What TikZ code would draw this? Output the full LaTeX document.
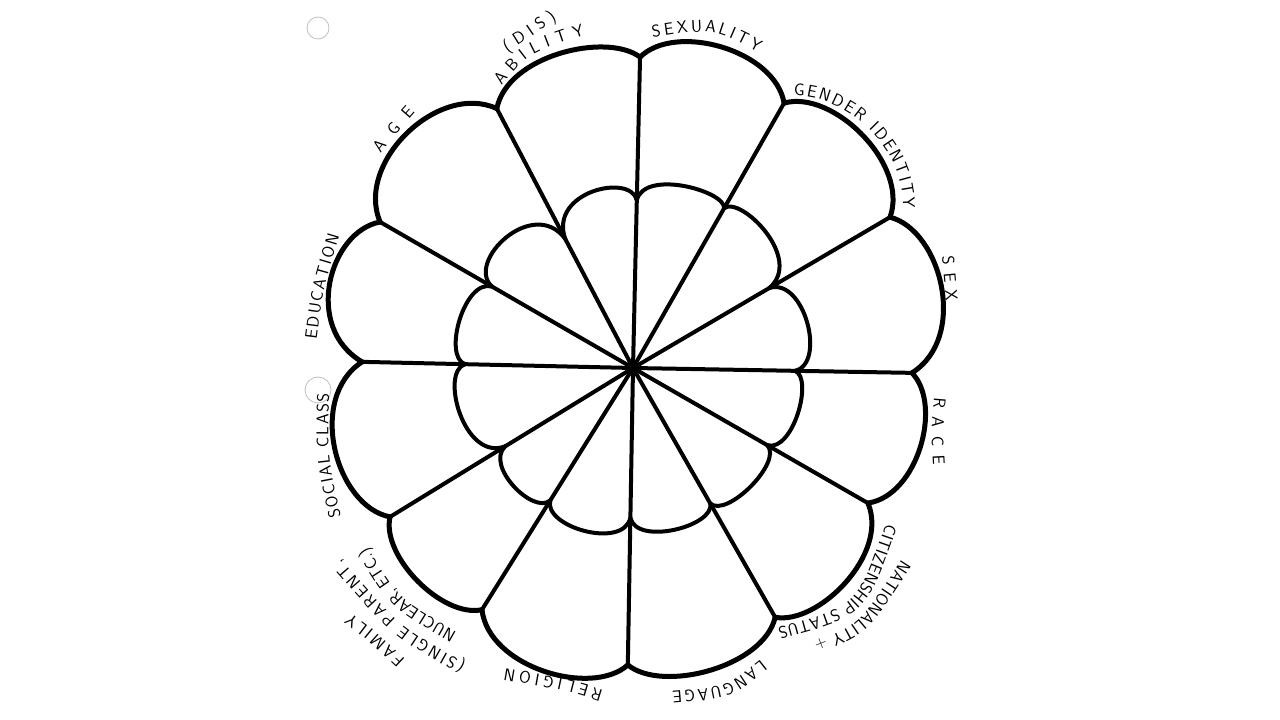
\documentclass[tikz,border=0pt]{standalone}
\usetikzlibrary{calc,decorations.text}
\newcommand\lblfont{\sffamily\fontsize{17}{17}\selectfont}
\begin{document}
\begin{tikzpicture}[x=1pt,y=1pt,line cap=round,line join=round,
  petal/.style={line width=5pt},
  spoke/.style={line width=4pt},
  innerpetal/.style={line width=4pt},
  punch/.style={draw=black!25,line width=0.8pt},
  lbl/.style={decorate,decoration={text along path,text align={fit to path},raise=-6pt}}]
\useasboundingbox (0,0) rectangle (1280,720);
\coordinate (C) at (633,352);
% outer junctions
\foreach \n/\a/\r in {0/88.7/311,1/60.3/305,2/30.4/298,3/-1/279,4/-29.9/271,5/-60.3/287,6/-91/297,7/-122/285,8/-148.5/285,9/-181.3/271,10/-210/292,11/-242.3/293}
  \coordinate (J\n) at ($(C)+(\a:\r)$);
% spokes
\foreach \n in {0,...,11} \draw[spoke] (C) -- (J\n);
% outer petals
\foreach \a/\ra/\b/\rb/\pk in {88.7/311/60.3/305/333, 60.3/305/30.4/298/327, 30.4/298/-1/279/319, -1/279/-29.9/271/298, -29.9/271/-60.3/287/302, -60.3/287/-91/297/312, -91/297/-122/285/316, -122/285/-148.5/285/303, -148.5/285/-181.3/271/309, -181.3/271/-210/292/315, -210/292/-242.3/293/326, -242.3/293/-271.3/311/323}
{
  \pgfmathsetmacro\h{(\a-\b)/2}
  \pgfmathsetmacro\dd{0.4*\h}
  \pgfmathsetmacro\rc{(8*\pk-(\ra+\rb)*cos(\h))/(6*cos(\h-\dd))}
  \draw[petal] ($(C)+(\a:\ra)$) .. controls ($(C)+({\a-\dd}:\rc)$) and ($(C)+({\b+\dd}:\rc)$) .. ($(C)+(\b:\rb)$);
}
% inner scalloped ring
\foreach \a/\ra/\b/\rb/\pk in {88.7/168/60.3/184/189, 60.3/184/30.4/158/190, 30.4/158/-1/162/180, -1/162/-29.9/155/171, -29.9/155/-60.3/156/167, -60.3/156/-91/150/167, -91/150/-122/156/170, -122/156/-148.5/150/168, -148.5/150/-181.3/168/179, -181.3/168/-210/163/180, -210/163/-242.3/146/182, -242.3/146/-271.3/168/181}
{
  \pgfmathsetmacro\h{(\a-\b)/2}
  \pgfmathsetmacro\dd{0.15*\h}
  \pgfmathsetmacro\rc{(8*\pk-(\ra+\rb)*cos(\h))/(6*cos(\h-\dd))}
  \draw[innerpetal] ($(C)+(\a:\ra)$) .. controls ($(C)+({\a-\dd}:\rc)$) and ($(C)+({\b+\dd}:\rc)$) .. ($(C)+(\b:\rb)$);
}
% faint punch holes
\draw[punch] (318,692) circle (11);
\draw[punch] (318,330) circle (13);
% labels
\path[lbl,decoration={text={|\lblfont|SEXUALITY}}] (651.7,688.3) .. controls (713.5,697.5) .. (760.8,673.3);
\path[lbl,decoration={text={|\lblfont|GENDER IDENTITY}}] (794,630) .. controls (845,632) and (910,580) .. (909,512);
\path[lbl,decoration={text={|\lblfont|SEX}}] (948,464) .. controls (950,441.8) .. (952,419);
\path[lbl,decoration={text={|\lblfont|RACE}}] (940,322) .. controls (937.2,288.2) .. (939,255);
\path[lbl,decoration={text={|\lblfont|NATIONALITY +}}] (906.7,157.5) .. controls (864,90.7) .. (815.8,72.1);
\path[lbl,decoration={text={|\lblfont|CITIZENSHIP STATUS}}] (891.7,195) .. controls (861.6,108.7) .. (779,86.7);
\path[lbl,decoration={text={|\lblfont|LANGUAGE}}] (764.5,55.5) .. controls (728.5,27) .. (672.5,22.5);
\path[lbl,decoration={text={|\lblfont|RELIGION}}] (601.7,24.2) .. controls (566.8,35) .. (504,46);
\path[lbl,decoration={text={|\lblfont|FAMILY}}] (401.2,56.2) .. controls (370.9,84.7) .. (347.2,102.2);
\path[lbl,decoration={text={|\lblfont|(SINGLE PARENT,}}] (463,51) .. controls (396.6,87.6) .. (336,157);
\path[lbl,decoration={text={|\lblfont|NUCLEAR, ETC.)}}] (454,82.5) .. controls (395.1,115.7) .. (362,170);
\path[lbl,decoration={text={|\lblfont|SOCIAL CLASS}}] (335,202) .. controls (321.4,262.9) .. (323,327);
\path[lbl,decoration={text={|\lblfont|EDUCATION}}] (310.7,381) .. controls (317,431.1) .. (333.7,486);
\path[lbl,decoration={text={|\lblfont|AGE}}] (376,570) .. controls (393.3,591.9) .. (410.7,612);
\path[lbl,decoration={text={|\lblfont|ABILITY}}] (497,638) .. controls (524.4,671.8) .. (583,691);
\path[lbl,decoration={text={|\lblfont|(DIS)}}] (504,673) .. controls (528.2,687.9) .. (553,706);
\end{tikzpicture}
\end{document}
